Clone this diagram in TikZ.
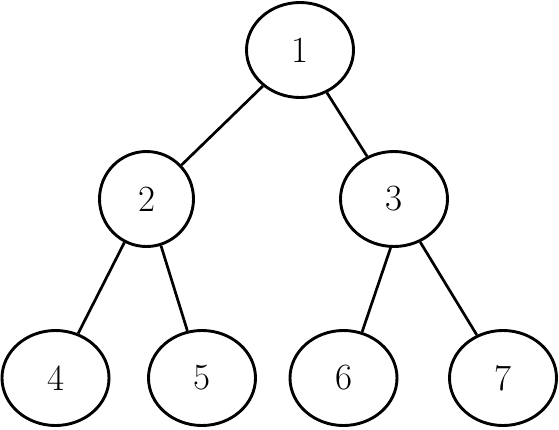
\documentclass[tikz,border=0pt]{standalone}
\usetikzlibrary{shapes.geometric}
\begin{document}
\begin{tikzpicture}[x=1pt,y=-1pt,
  tnode/.style={ellipse,draw,line width=2.9pt,minimum width=107pt,minimum height=95pt,inner sep=0pt,font=\fontsize{37}{40}\selectfont},
  edge/.style={line width=2.7pt}]
\useasboundingbox (0,0) rectangle (559,429);
\node[tnode] (n1) at (300,50) {1};
\node[tnode,minimum width=94pt] (n2) at (146.5,199) {2};
\node[tnode] (n3) at (394,199) {3};
\node[tnode] (n4) at (55.5,378) {4};
\node[tnode] (n5) at (202,378) {5};
\node[tnode] (n6) at (343.5,378) {6};
\node[tnode] (n7) at (503,378) {7};
\draw[edge] (n1) -- (n2);
\draw[edge] (n1) -- (n3);
\draw[edge] (n2) -- (n4);
\draw[edge] (n2) -- (n5);
\draw[edge] (n3.-94) -- (n6.68);
\draw[edge] (n3) -- (n7);
\end{tikzpicture}
\end{document}
